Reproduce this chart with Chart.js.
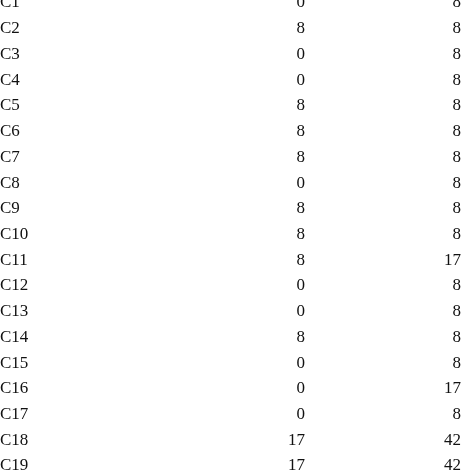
<!DOCTYPE html>
<html>
<head>
<meta charset="utf-8">
<script src="https://cdn.jsdelivr.net/npm/chart.js@4"></script>
<style>
  html, body { margin: 0; padding: 0; background: #fff; }
  #wrap { width: 474px; height: 474px; position: relative; }
</style>
</head>
<body>
<div id="wrap"><canvas id="tbl"></canvas></div>
<script>
// Table data
const rowLabels = ['C1','C2','C3','C4','C5','C6','C7','C8','C9','C10','C11','C12','C13','C14','C15','C16','C17','C18','C19'];
const colA = [0, 8, 0, 0, 8, 8, 8, 0, 8, 8, 8, 0, 0, 8, 0, 0, 0, 17, 17];
const colB = [8, 8, 8, 8, 8, 8, 8, 8, 8, 8, 17, 8, 8, 8, 8, 17, 8, 42, 42];

// column anchor positions (x scale units = pixels)
const colX = [0, 305, 461];
const FONT = '17px "Liberation Serif", "DejaVu Serif", serif';

const points = [];
rowLabels.forEach((lab, i) => {
    points.push({ x: colX[0], y: i, t: lab, align: 'left' });
    points.push({ x: colX[1], y: i, t: String(colA[i]), align: 'right' });
    points.push({ x: colX[2], y: i, t: String(colB[i]), align: 'right' });
});

const textPlugin = {
    id: 'cellText',
    afterDatasetsDraw(chart) {
        const ctx = chart.ctx;
        const xs = chart.scales.x, ys = chart.scales.y;
        ctx.save();
        ctx.font = FONT;
        ctx.fillStyle = '#111';
        ctx.textBaseline = 'middle';
        chart.data.datasets[0].data.forEach(p => {
            ctx.textAlign = p.align;
            ctx.fillText(p.t, xs.getPixelForValue(p.x), ys.getPixelForValue(p.y));
        });
        ctx.restore();
    }
};

new Chart(document.getElementById('tbl'), {
    type: 'scatter',
    data: { datasets: [{ data: points, pointRadius: 0 }] },
    options: {
        responsive: true,
        maintainAspectRatio: false,
        animation: false,
        layout: { padding: 0 },
        plugins: { legend: { display: false }, tooltip: { enabled: false } },
        scales: {
            x: { type: 'linear', min: 0, max: 474, display: false },
            y: { type: 'linear', min: -0.117, max: 18.311, reverse: true, display: false }
        }
    },
    plugins: [textPlugin]
});
</script>
</body>
</html>
